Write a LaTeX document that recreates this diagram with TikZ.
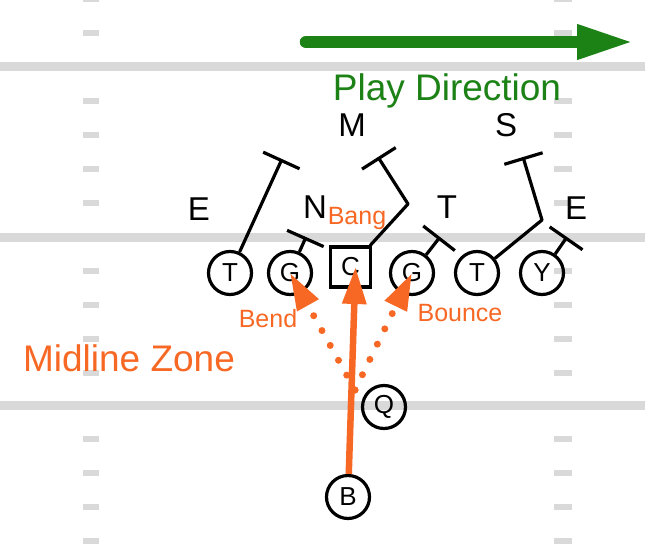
\documentclass[tikz,border=0pt]{standalone}
\usepackage{fontspec}
\setmainfont{Liberation Sans}
\usetikzlibrary{arrows.meta}
\definecolor{fieldgray}{RGB}{217, 217, 217}
\definecolor{dirgreen}{RGB}{28, 130, 22}
\definecolor{runorange}{RGB}{247, 104, 36}

\begin{document}
\begin{tikzpicture}[x=1pt, y=-1pt,
    player/.style={draw, circle, line width=3.2pt, minimum size=43pt, inner sep=0pt, font=\fontsize{26}{26}\selectfont},
    snapper/.style={draw, rectangle, line width=3.2pt, minimum size=40pt, inner sep=0pt, font=\fontsize{26}{26}\selectfont},
    defender/.style={inner sep=0pt, font=\fontsize{33}{33}\selectfont},
    callout/.style={inner sep=0pt, anchor=base, text=runorange, font=\fontsize{25}{25}\selectfont},
    block/.style={line width=3.2pt, line join=round, -{Bar[width=40pt]}},
    run/.style={runorange, line width=6.5pt, -{Triangle[length=37pt, width=23pt]}},
    option/.style={run, line width=7pt, line cap=round, dash pattern=on 0pt off 17pt}]
    \clip (0,0) rectangle (645,546);

    % field
    \foreach \y in {66,237,405}
        \fill[fieldgray] (0,\y-4.5) rectangle (645,\y+4.5);
    \foreach \y in {-1,33,101,135,169,203,271,305,339,373,439,473,507,541} {
        \fill[fieldgray] (83,\y-3) rectangle (99,\y+3);
        \fill[fieldgray] (554,\y-3) rectangle (572,\y+3);
    }

    % play direction
    \coordinate (dirstart) at (306,42);
    \coordinate (dirend) at (634,42);
    \draw[dirgreen, line width=12.5pt, line cap=round, -{Triangle[length=57pt, width=32pt]}] (dirstart) -- (dirend);
    \node[inner sep=0pt, anchor=base, text=dirgreen, font=\fontsize{37}{37}\selectfont] (dirlabel) at (447,100) {Play Direction};

    % offense
    \node[player] (T1) at (230,273) {T};
    \node[player] (G1) at (290,273) {G};
    \node[snapper] (C) at (350.5,267) {C};
    \node[player] (G2) at (412,273) {G};
    \node[player] (T2) at (477,273) {T};
    \node[player] (Y) at (542,273) {Y};
    \node[player] (Q) at (384,407) {Q};
    \node[player] (B) at (348,497) {B};

    % defense
    \node[defender] (E1) at (199,209) {E};
    \node[defender] (N) at (315,207) {N};
    \node[defender] (M) at (352,125) {M};
    \node[defender] (S) at (506,125) {S};
    \node[defender] (T3) at (447,207) {T};
    \node[defender] (E2) at (576,208) {E};

    % blocks
    \coordinate (blkT1) at (282,159);
    \coordinate (blkG1) at (306,237);
    \coordinate (bendC) at (408,204);
    \coordinate (blkC) at (378,157);
    \coordinate (blkG2) at (440,237);
    \coordinate (bendT2) at (542,220);
    \coordinate (blkT2) at (523,157);
    \coordinate (blkY) at (567,237);
    \draw[block] (T1) -- (blkT1);
    \draw[block] (G1) -- (blkG1);
    \draw[block] (C) -- (bendC) -- (blkC);
    \draw[block] (G2) -- (blkG2);
    \draw[block] (T2) -- (bendT2) -- (blkT2);
    \draw[block] (Y) -- (blkY);

    % run options
    \coordinate (fork) at (355,390);
    \draw[option] (fork) -- (G1.center);
    \draw[option] (fork) -- (G2.center);
    \draw[run] (B) -- ([xshift=5pt]C.center);

    \node[callout] (bang) at (357,224) {Bang};
    \node[callout] (bend) at (268,327) {Bend};
    \node[callout] (bounce) at (460,321) {Bounce};
    \node[callout, font=\fontsize{37}{37}\selectfont] (zone) at (129,371) {Midline Zone};
\end{tikzpicture}
\end{document}
